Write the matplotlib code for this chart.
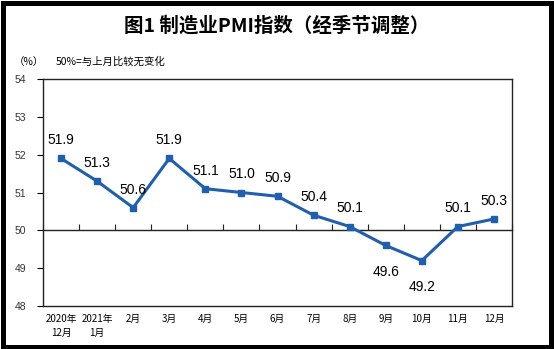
import matplotlib.pyplot as plt
from matplotlib.patches import Rectangle
import numpy as np

plt.rcParams['font.family'] = ['Noto Sans CJK SC', 'DejaVu Sans']

# data
months = ['2020年\n12月', '2021年\n1月', '2月', '3月', '4月', '5月', '6月',
          '7月', '8月', '9月', '10月', '11月', '12月']
pmi = [51.9, 51.3, 50.6, 51.9, 51.1, 51.0, 50.9, 50.4, 50.1, 49.6, 49.2, 50.1, 50.3]
below = [49.6, 49.2]   # values whose label sits under the point

blue = '#1f5fae'

fig = plt.figure(figsize=(5.54, 3.49), dpi=100, facecolor='white')
# black frame around the picture
fig.patches.append(Rectangle((2.5/554, 2.5/349), 548.5/554, 344/349,
                             transform=fig.transFigure, fill=False,
                             edgecolor='black', lw=3.6*1.0, zorder=5))

ax = fig.add_axes([43/554, 43/349, 469/554, 227/349])
x = np.arange(len(pmi))
ax.plot(x, pmi, color=blue, lw=2.2, marker='s', ms=5, zorder=3)

for xi, v in zip(x, pmi):
    if v in below:
        ax.annotate(f'{v:.1f}', (xi, v), xytext=(0, -19), textcoords='offset points',
                    ha='center', va='center', fontsize=10, family='Liberation Sans')
    else:
        ax.annotate(f'{v:.1f}', (xi, v), xytext=(0, 13), textcoords='offset points',
                    ha='center', va='center', fontsize=10, family='Liberation Sans')

ax.set_xlim(-0.5, len(pmi) - 0.5)
ax.set_ylim(48, 54)
ax.set_yticks(np.arange(48, 55, 1))
ax.tick_params(axis='y', length=4, width=0.8, labelsize=7.5, labelcolor='#333333',
               pad=8)
for lab in ax.get_yticklabels():
    lab.set_family('Liberation Sans')
ax.set_xticks(x)
ax.set_xticklabels(months, fontsize=7, linespacing=1.5)
ax.tick_params(axis='x', length=0, pad=6)
for s in ax.spines.values():
    s.set_linewidth(1.0)
    s.set_color('#222222')

# 50 line with category tick marks
sec = ax.secondary_xaxis((50 - 48) / 6)
sec.set_xticks(np.arange(-0.5, len(pmi), 1))
sec.tick_params(direction='in', length=4, width=0.8, labelbottom=False, labeltop=False,
                color='#222222')
sec.spines['bottom'].set_linewidth(1.0)
sec.spines['bottom'].set_color('#222222')

fig.text(0.5, 1 - 26/349, '图1 制造业PMI指数（经季节调整）', ha='center', va='center',
         fontsize=14, fontweight='bold')
fig.text(29/554, 1 - 62/349, '（%）', ha='center', va='center', fontsize=7.5)
fig.text(56/554, 1 - 62/349, '50%=与上月比较无变化', ha='left', va='center', fontsize=7.5)

fig.savefig('out.png', dpi=100)
